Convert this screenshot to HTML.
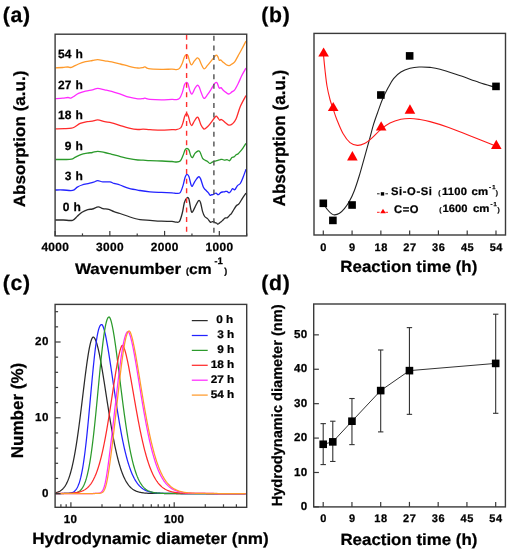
<!DOCTYPE html>
<html><head><meta charset="utf-8"><style>
html,body{margin:0;padding:0;background:#fff;width:515px;height:550px;overflow:hidden}
svg{display:block;text-rendering:geometricPrecision;filter:blur(0.3px)}
text{font-family:"Liberation Sans",sans-serif;font-weight:bold;fill:#000;stroke:#000;stroke-width:0.25px}
</style></head><body>
<svg width="515" height="550" viewBox="0 0 515 550">
<rect width="515" height="550" fill="#fff"/>
<text transform="translate(2.7,22.3) scale(1,1)" font-size="21.2" text-anchor="start" letter-spacing="0.7">(a)</text>
<path d="M55.7,67.8C56.87,67.75 60.65,67.63 62.7,67.5C64.75,67.37 66.68,67 68,67C69.32,67 69.73,67.57 70.6,67.5C71.47,67.43 71.88,67.18 73.2,66.6C74.52,66.02 76.45,64.82 78.5,64C80.55,63.18 83.18,62.28 85.5,61.7C87.82,61.12 90.37,60.85 92.4,60.5C94.43,60.15 95.65,59.55 97.7,59.6C99.75,59.65 102.37,60.42 104.7,60.8C107.03,61.18 109.08,61.37 111.7,61.9C114.32,62.43 117.5,63.27 120.4,64C123.3,64.73 126.18,65.63 129.1,66.3C132.02,66.97 135.57,67.78 137.9,68C140.23,68.22 141.92,67.8 143.1,67.6C144.28,67.4 144.1,66.63 145,66.8C145.9,66.97 145.77,68.18 148.5,68.6C151.23,69.02 157.48,69.2 161.4,69.3C165.32,69.4 169.57,69.15 172,69.2C174.43,69.25 174.75,69.73 176,69.6C177.25,69.47 178.45,69.45 179.5,68.4C180.55,67.35 181.48,65.2 182.3,63.3C183.12,61.4 183.77,58.4 184.4,57C185.03,55.6 185.52,55.13 186.1,54.9C186.68,54.67 187.25,54.32 187.9,55.6C188.55,56.88 189.37,61.05 190,62.6C190.63,64.15 191,65.13 191.7,64.9C192.4,64.67 193.28,62.37 194.2,61.2C195.12,60.03 196.38,58.25 197.2,57.9C198.02,57.55 198.43,58.08 199.1,59.1C199.77,60.12 200.38,62.37 201.2,64C202.02,65.63 202.95,68.67 204,68.9C205.05,69.13 206.33,66.68 207.5,65.4C208.67,64.12 210,62.42 211,61.2C212,59.98 212.7,59.08 213.5,58.1C214.3,57.12 215.1,55.6 215.8,55.3C216.5,55 217.12,55.47 217.7,56.3C218.28,57.13 218.8,59.7 219.3,60.3C219.8,60.9 220.12,59.63 220.7,59.9C221.28,60.17 221.87,61.1 222.8,61.9C223.73,62.7 225.25,64.08 226.3,64.7C227.35,65.32 228.17,65.72 229.1,65.6C230.03,65.48 230.97,64.62 231.9,64C232.83,63.38 233.65,63.3 234.7,61.9C235.75,60.5 237.03,57.7 238.2,55.6C239.37,53.5 240.4,51.73 241.7,49.3C243,46.87 245.28,42.38 246,41" fill="none" stroke="#ff9a2b" stroke-width="1.3" stroke-linejoin="round"/>
<path d="M55.7,98.6C56.87,98.52 60.65,98.28 62.7,98.1C64.75,97.92 66.68,97.5 68,97.5C69.32,97.5 69.73,98.22 70.6,98.1C71.47,97.98 71.88,97.6 73.2,96.8C74.52,96 76.45,94.25 78.5,93.3C80.55,92.35 83.18,91.68 85.5,91.1C87.82,90.52 90.37,90.25 92.4,89.8C94.43,89.35 95.65,88.4 97.7,88.4C99.75,88.4 102.37,89.3 104.7,89.8C107.03,90.3 109.08,90.67 111.7,91.4C114.32,92.13 117.5,93.23 120.4,94.2C123.3,95.17 126.18,96.42 129.1,97.2C132.02,97.98 135.57,98.67 137.9,98.9C140.23,99.13 141.92,98.72 143.1,98.6C144.28,98.48 143.85,98.08 145,98.2C146.15,98.32 147.27,99.03 150,99.3C152.73,99.57 157.73,99.78 161.4,99.8C165.07,99.82 169.57,99.43 172,99.4C174.43,99.37 174.75,99.77 176,99.6C177.25,99.43 178.45,99.57 179.5,98.4C180.55,97.23 181.48,94.85 182.3,92.6C183.12,90.35 183.77,86.58 184.4,84.9C185.03,83.22 185.52,82.73 186.1,82.5C186.68,82.27 187.25,82.05 187.9,83.5C188.55,84.95 189.3,89.45 190,91.2C190.7,92.95 191.28,94.47 192.1,94C192.92,93.53 194.05,89.85 194.9,88.4C195.75,86.95 196.5,85.58 197.2,85.3C197.9,85.02 198.43,85.48 199.1,86.7C199.77,87.92 200.38,90.65 201.2,92.6C202.02,94.55 202.95,98.05 204,98.4C205.05,98.75 206.33,96.18 207.5,94.7C208.67,93.22 209.97,91.13 211,89.5C212.03,87.87 212.9,86.07 213.7,84.9C214.5,83.73 215.22,82.8 215.8,82.5C216.38,82.2 216.62,82.15 217.2,83.1C217.78,84.05 218.67,87.45 219.3,88.2C219.93,88.95 220.3,87.22 221,87.6C221.7,87.98 222.62,89.67 223.5,90.5C224.38,91.33 225.42,92.02 226.3,92.6C227.18,93.18 227.87,94.12 228.8,94C229.73,93.88 230.92,92.6 231.9,91.9C232.88,91.2 233.65,91.2 234.7,89.8C235.75,88.4 237.03,85.83 238.2,83.5C239.37,81.17 240.4,78.38 241.7,75.8C243,73.22 245.28,69.3 246,68" fill="none" stroke="#ff2bff" stroke-width="1.3" stroke-linejoin="round"/>
<path d="M55.7,128.9C57.17,128.85 61.87,128.73 64.5,128.6C67.13,128.47 69.75,128.4 71.5,128.1C73.25,127.8 73.55,127.58 75,126.8C76.45,126.02 78.17,124.27 80.2,123.4C82.23,122.53 85.17,121.98 87.2,121.6C89.23,121.22 90.65,121.38 92.4,121.1C94.15,120.82 95.65,119.82 97.7,119.9C99.75,119.98 102.37,121.12 104.7,121.6C107.03,122.08 109.08,122.13 111.7,122.8C114.32,123.47 117.5,124.72 120.4,125.6C123.3,126.48 126.18,127.45 129.1,128.1C132.02,128.75 135.57,129.33 137.9,129.5C140.23,129.67 141.08,129.08 143.1,129.1C145.12,129.12 146.95,129.42 150,129.6C153.05,129.78 157.73,130.2 161.4,130.2C165.07,130.2 169.57,129.68 172,129.6C174.43,129.52 174.55,129.98 176,129.7C177.45,129.42 179.53,129.08 180.7,127.9C181.87,126.72 182.33,124.55 183,122.6C183.67,120.65 184.12,117.75 184.7,116.2C185.28,114.65 185.92,113.38 186.5,113.3C187.08,113.22 187.62,114.15 188.2,115.7C188.78,117.25 189.42,120.95 190,122.6C190.58,124.25 191.02,125.78 191.7,125.6C192.38,125.42 193.22,122.87 194.1,121.5C194.98,120.13 196.23,117.88 197,117.4C197.77,116.92 198.03,117.33 198.7,118.6C199.37,119.87 200.12,123.27 201,125C201.88,126.73 202.92,128.72 204,129C205.08,129.28 206.33,127.77 207.5,126.7C208.67,125.63 209.85,124.05 211,122.6C212.15,121.15 213.53,119.07 214.4,118C215.27,116.93 215.6,116.2 216.2,116.2C216.8,116.2 217.42,117.33 218,118C218.58,118.67 219.22,119.97 219.7,120.2C220.18,120.43 220.42,119.38 220.9,119.4C221.38,119.42 221.73,119.67 222.6,120.3C223.47,120.93 225.03,122.38 226.1,123.2C227.17,124.02 227.93,125.1 229,125.2C230.07,125.3 231.33,124.82 232.5,123.8C233.67,122.78 234.68,122.02 236,119.1C237.32,116.18 238.73,110.23 240.4,106.3C242.07,102.37 245.07,97.3 246,95.5" fill="none" stroke="#ff2b2b" stroke-width="1.3" stroke-linejoin="round"/>
<path d="M55.7,159.5C57.17,159.5 61.87,159.55 64.5,159.5C67.13,159.45 69.75,159.55 71.5,159.2C73.25,158.85 73.55,158.13 75,157.4C76.45,156.67 78.17,155.52 80.2,154.8C82.23,154.08 85.17,153.48 87.2,153.1C89.23,152.72 90.65,152.8 92.4,152.5C94.15,152.2 95.65,151.3 97.7,151.3C99.75,151.3 102.37,152 104.7,152.5C107.03,153 109.08,153.62 111.7,154.3C114.32,154.98 117.5,155.87 120.4,156.6C123.3,157.33 126.18,158.13 129.1,158.7C132.02,159.27 135.57,159.75 137.9,160C140.23,160.25 141.08,160.1 143.1,160.2C145.12,160.3 146.95,160.47 150,160.6C153.05,160.73 157.73,160.85 161.4,161C165.07,161.15 169.57,161.33 172,161.5C174.43,161.67 174.63,162.07 176,162C177.37,161.93 179.03,162.18 180.2,161.1C181.37,160.02 182.18,157.37 183,155.5C183.82,153.63 184.45,151.07 185.1,149.9C185.75,148.73 186.27,148.5 186.9,148.5C187.53,148.5 188.27,148.73 188.9,149.9C189.53,151.07 190.1,154.22 190.7,155.5C191.3,156.78 191.8,157.95 192.5,157.6C193.2,157.25 193.97,154.5 194.9,153.4C195.83,152.3 197.25,151.23 198.1,151C198.95,150.77 199.25,150.78 200,152C200.75,153.22 201.7,156.9 202.6,158.3C203.5,159.7 204.58,159.87 205.4,160.4C206.22,160.93 206.77,161 207.5,161.5C208.23,162 209.12,163.23 209.8,163.4C210.48,163.57 211.01,162.8 211.6,162.5C212.19,162.2 212.77,161.82 213.35,161.59C213.93,161.36 214.52,161.26 215.1,161.1C215.68,160.94 216.27,160.8 216.85,160.64C217.43,160.47 218.02,160.27 218.6,160.1C219.18,159.93 219.77,159.73 220.35,159.6C220.93,159.46 221.46,159.22 222.1,159.3C222.74,159.38 223.62,159.99 224.2,160.1C224.78,160.21 225.13,160.05 225.6,159.98C226.07,159.92 226.53,159.66 227,159.7C227.47,159.74 227.93,160.1 228.4,160.25C228.87,160.4 229.22,161.04 229.8,160.6C230.38,160.16 231.2,158.22 231.9,157.6C232.6,156.98 233.3,157.37 234,156.9C234.7,156.43 235.4,155.33 236.1,154.8C236.8,154.27 237.38,154.4 238.2,153.7C239.02,153 240.18,151.58 241,150.6C241.82,149.62 242.27,149 243.1,147.8C243.93,146.6 245.52,144.13 246,143.4" fill="none" stroke="#2b9a2b" stroke-width="1.3" stroke-linejoin="round"/>
<path d="M55.2,190C56.55,190 60.4,189.93 63.3,190C66.2,190.07 70.27,190.88 72.6,190.4C74.93,189.92 75.73,188 77.3,187.1C78.87,186.2 80.05,185.62 82,185C83.95,184.38 87.07,183.87 89,183.4C90.93,182.93 92.15,182.65 93.6,182.2C95.05,181.75 96.15,180.75 97.7,180.7C99.25,180.65 100.87,181.7 102.9,181.9C104.93,182.1 108.05,181.65 109.9,181.9C111.75,182.15 112.32,182.88 114,183.4C115.68,183.92 117.5,184.17 120,185C122.5,185.83 125.67,187.48 129,188.4C132.33,189.32 136.5,189.93 140,190.5C143.5,191.07 146.43,191.48 150,191.8C153.57,192.12 157.73,192.23 161.4,192.4C165.07,192.57 169.57,192.65 172,192.8C174.43,192.95 174.63,193.33 176,193.3C177.37,193.27 179.03,193.88 180.2,192.6C181.37,191.32 182.18,188.17 183,185.6C183.82,183.03 184.45,179.07 185.1,177.2C185.75,175.33 186.27,174.52 186.9,174.4C187.53,174.28 188.2,174.75 188.9,176.5C189.6,178.25 190.5,183.33 191.1,184.9C191.7,186.47 191.87,186.48 192.5,185.9C193.13,185.32 193.92,182.9 194.9,181.4C195.88,179.9 197.47,177.37 198.4,176.9C199.33,176.43 199.68,176.92 200.5,178.6C201.32,180.28 202.48,185.13 203.3,187C204.12,188.87 204.58,188.87 205.4,189.8C206.22,190.73 207.38,191.67 208.2,192.6C209.02,193.53 209.73,195.06 210.3,195.4C210.88,195.74 211.2,194.73 211.65,194.62C212.1,194.5 212.48,194.88 213,194.7C213.52,194.52 214.17,193.75 214.75,193.51C215.33,193.28 215.97,193.1 216.5,193.3C217.03,193.5 217.43,194.59 217.9,194.7C218.37,194.81 218.83,194.34 219.3,193.99C219.77,193.64 220.17,192.93 220.7,192.6C221.22,192.27 221.87,192.13 222.45,192.01C223.03,191.89 223.67,192 224.2,191.9C224.72,191.8 225.13,191.47 225.6,191.38C226.07,191.3 226.42,191.16 227,191.4C227.58,191.64 228.46,192.83 229.1,192.8C229.74,192.77 230.27,191.9 230.85,191.2C231.43,190.5 231.96,188.83 232.6,188.6C233.24,188.37 233.88,190.3 234.7,189.8C235.52,189.3 236.57,186.65 237.5,185.6C238.43,184.55 239.37,184.9 240.3,183.5C241.23,182.1 242.15,179.57 243.1,177.2C244.05,174.83 245.52,170.62 246,169.3" fill="none" stroke="#2323ff" stroke-width="1.3" stroke-linejoin="round"/>
<path d="M55.2,220C56.55,220 60.4,219.95 63.3,220C66.2,220.05 70.27,220.92 72.6,220.3C74.93,219.68 75.73,217.65 77.3,216.3C78.87,214.95 80.25,213.32 82,212.2C83.75,211.08 86.07,210.13 87.8,209.6C89.53,209.07 90.65,209.45 92.4,209C94.15,208.55 96.55,206.95 98.3,206.9C100.05,206.85 101.15,208.3 102.9,208.7C104.65,209.1 106.95,208.82 108.8,209.3C110.65,209.78 112.13,210.9 114,211.6C115.87,212.3 117.33,212.6 120,213.5C122.67,214.4 126.67,215.98 130,217C133.33,218.02 136.67,219.03 140,219.6C143.33,220.17 146.43,220.13 150,220.4C153.57,220.67 157.73,221.03 161.4,221.2C165.07,221.37 169.57,221.25 172,221.4C174.43,221.55 174.75,222.1 176,222.1C177.25,222.1 178.45,222.92 179.5,221.4C180.55,219.88 181.48,216.15 182.3,213C183.12,209.85 183.63,205.02 184.4,202.5C185.17,199.98 186.15,198.48 186.9,197.9C187.65,197.32 188.27,197.18 188.9,199C189.53,200.82 190.17,206.58 190.7,208.8C191.23,211.02 191.4,212.53 192.1,212.3C192.8,212.07 193.85,209.33 194.9,207.4C195.95,205.47 197.47,201.52 198.4,200.7C199.33,199.88 199.8,200.68 200.5,202.5C201.2,204.32 201.9,209.27 202.6,211.6C203.3,213.93 203.88,215.33 204.7,216.5C205.52,217.67 206.57,217.67 207.5,218.6C208.43,219.53 209.55,221.56 210.3,222.1C211.05,222.64 211.43,221.9 212,221.81C212.57,221.73 213.18,221.45 213.7,221.6C214.22,221.75 214.63,222.47 215.1,222.7C215.57,222.94 216.03,222.75 216.5,223C216.97,223.25 217.43,224.18 217.9,224.2C218.37,224.22 218.83,223.47 219.3,223.12C219.77,222.77 220.17,222.52 220.7,222.1C221.22,221.68 221.87,221.17 222.45,220.62C223.03,220.07 223.67,219.25 224.2,218.8C224.72,218.35 225.13,218.08 225.6,217.93C226.07,217.78 226.53,218.11 227,217.9C227.47,217.69 227.93,217.13 228.4,216.66C228.87,216.2 229.33,215.58 229.8,215.1C230.27,214.62 230.73,214.37 231.2,213.79C231.67,213.21 231.78,212.9 232.6,211.6C233.42,210.3 235.05,207.28 236.1,206C237.15,204.72 237.85,205.18 238.9,203.9C239.95,202.62 241.22,200.08 242.4,198.3C243.58,196.52 245.4,194.05 246,193.2" fill="none" stroke="#2b2b2b" stroke-width="1.3" stroke-linejoin="round"/>
<line x1="186.6" y1="34.2" x2="186.6" y2="235.5" stroke="#ff3030" stroke-width="1.4" stroke-dasharray="5,4.6" stroke-dashoffset="9.1"/>
<line x1="213.9" y1="34.2" x2="213.9" y2="235.5" stroke="#505050" stroke-width="1.4" stroke-dasharray="5,4.6" stroke-dashoffset="8"/>
<rect x="55.1" y="34.2" width="191.6" height="201.7" fill="none" stroke="#3a3a3a" stroke-width="1.4"/>
<line x1="55.1" y1="235.9" x2="55.1" y2="230.9" stroke="#3a3a3a" stroke-width="1.2"/>
<line x1="82.47" y1="235.9" x2="82.47" y2="233.4" stroke="#3a3a3a" stroke-width="1.2"/>
<line x1="109.84" y1="235.9" x2="109.84" y2="230.9" stroke="#3a3a3a" stroke-width="1.2"/>
<line x1="137.21" y1="235.9" x2="137.21" y2="233.4" stroke="#3a3a3a" stroke-width="1.2"/>
<line x1="164.58" y1="235.9" x2="164.58" y2="230.9" stroke="#3a3a3a" stroke-width="1.2"/>
<line x1="191.95" y1="235.9" x2="191.95" y2="233.4" stroke="#3a3a3a" stroke-width="1.2"/>
<line x1="219.32" y1="235.9" x2="219.32" y2="230.9" stroke="#3a3a3a" stroke-width="1.2"/>
<line x1="246.69" y1="235.9" x2="246.69" y2="233.4" stroke="#3a3a3a" stroke-width="1.2"/>
<text transform="translate(55.3,251.4) scale(1,1)" font-size="11.9" text-anchor="middle" letter-spacing="0.35">4000</text>
<text transform="translate(110.04,251.4) scale(1,1)" font-size="11.9" text-anchor="middle" letter-spacing="0.35">3000</text>
<text transform="translate(164.78,251.4) scale(1,1)" font-size="11.9" text-anchor="middle" letter-spacing="0.35">2000</text>
<text transform="translate(219.52,251.4) scale(1,1)" font-size="11.9" text-anchor="middle" letter-spacing="0.35">1000</text>
<text transform="translate(83.1,58.3) scale(1,1)" font-size="12" text-anchor="end" letter-spacing="0.3">54 h</text>
<text transform="translate(83.1,88.9) scale(1,1)" font-size="12" text-anchor="end" letter-spacing="0.3">27 h</text>
<text transform="translate(83.1,119.1) scale(1,1)" font-size="12" text-anchor="end" letter-spacing="0.3">18 h</text>
<text transform="translate(83.1,150) scale(1,1)" font-size="12" text-anchor="end" letter-spacing="0.3">9 h</text>
<text transform="translate(83.1,180.4) scale(1,1)" font-size="12" text-anchor="end" letter-spacing="0.3">3 h</text>
<text transform="translate(81.1,210.7) scale(1,1)" font-size="12" text-anchor="end" letter-spacing="0.3">0 h</text>
<text transform="translate(74.9,273.7) scale(1,0.9)" font-size="17" text-anchor="start" >Wavenumber</text>
<text transform="translate(186,274) scale(1,1)" font-size="8.8" text-anchor="start" >(</text>
<text transform="translate(189,273.6) scale(1,0.93)" font-size="15.6" text-anchor="start" >cm</text>
<text transform="translate(214.6,264.3) scale(1,1)" font-size="8.8" text-anchor="start" >-</text>
<text transform="translate(217.6,264.4) scale(1,1)" font-size="9.6" text-anchor="start" >1</text>
<text transform="translate(224.3,274) scale(1,1)" font-size="8.8" text-anchor="start" >)</text>
<text transform="translate(24.9,138.9) rotate(-90) scale(1,0.95)" x="0" y="0" font-size="17.1" text-anchor="middle">Absorption (a.u.)</text>
<text transform="translate(261.3,22.3) scale(1,1)" font-size="21.2" text-anchor="start" letter-spacing="0.7">(b)</text>
<path d="M324,204.6C324.55,205.42 326.07,208 327.3,209.5C328.53,211 330.18,212.7 331.4,213.6C332.62,214.5 333.25,214.95 334.6,214.9C335.95,214.85 337.87,214.33 339.5,213.3C341.13,212.27 342.75,210.7 344.4,208.7C346.05,206.7 347.75,204.3 349.4,201.3C351.05,198.3 352.67,194.92 354.3,190.7C355.93,186.48 357.62,181.15 359.2,176C360.78,170.85 362.43,164.67 363.8,159.8C365.17,154.93 366.35,150.57 367.4,146.8C368.45,143.03 369.07,140.97 370.1,137.2C371.13,133.43 372.25,128.58 373.6,124.2C374.95,119.82 376.68,115.13 378.2,110.9C379.72,106.67 381.03,102.68 382.7,98.8C384.37,94.92 386.38,90.97 388.2,87.6C390.02,84.23 391.48,81.2 393.6,78.6C395.72,76 398.17,73.72 400.9,72C403.63,70.28 406.97,69.13 410,68.3C413.03,67.47 415.77,67.15 419.1,67C422.43,66.85 426.52,67.03 430,67.4C433.48,67.77 435.07,67.83 440,69.2C444.93,70.57 453.07,73.4 459.6,75.6C466.13,77.8 473.47,80.5 479.2,82.4C484.93,84.3 491.53,86.23 494,87" fill="none" stroke="#222" stroke-width="1.1"/>
<path d="M323.4,54C323.67,56.67 324.4,64.67 325,70C325.6,75.33 326.17,81.08 327,86C327.83,90.92 329,95.75 330,99.5C331,103.25 331.83,105.08 333,108.5C334.17,111.92 335.33,115.83 337,120C338.67,124.17 340.83,129.73 343,133.5C345.17,137.27 347.62,140.62 350,142.6C352.38,144.58 354.88,145.23 357.3,145.4C359.72,145.57 362.08,144.8 364.5,143.6C366.92,142.4 369.07,140.57 371.8,138.2C374.53,135.83 377.87,131.93 380.9,129.4C383.93,126.87 386.67,124.68 390,123C393.33,121.32 397.57,120.05 400.9,119.3C404.23,118.55 406.97,118.48 410,118.5C413.03,118.52 415.77,118.88 419.1,119.4C422.43,119.92 425.07,120.27 430,121.6C434.93,122.93 441.95,125 448.7,127.4C455.45,129.8 462.87,132.98 470.5,136C478.13,139.02 490.5,143.92 494.5,145.5" fill="none" stroke="#ff1a1a" stroke-width="1.1"/>
<rect x="319.5" y="199.5" width="7.6" height="7.6" fill="#000"/>
<rect x="329.09" y="216.6" width="7.6" height="7.6" fill="#000"/>
<rect x="348.28" y="201.2" width="7.6" height="7.6" fill="#000"/>
<rect x="377.06" y="91.2" width="7.6" height="7.6" fill="#000"/>
<rect x="405.85" y="52.1" width="7.6" height="7.6" fill="#000"/>
<rect x="492.19" y="82.6" width="7.6" height="7.6" fill="#000"/>
<path d="M323.6,47.4 L318.3,56.5 L328.9,56.5 Z" fill="#ff0000"/>
<path d="M333.19,102 L327.89,110.9 L338.49,110.9 Z" fill="#ff0000"/>
<path d="M352.38,151 L347.08,160.6 L357.68,160.6 Z" fill="#ff0000"/>
<path d="M381.16,121.2 L375.86,130.4 L386.46,130.4 Z" fill="#ff0000"/>
<path d="M409.95,104.2 L404.65,113.7 L415.25,113.7 Z" fill="#ff0000"/>
<path d="M496.29,139.8 L490.99,149.1 L501.59,149.1 Z" fill="#ff0000"/>
<rect x="314" y="33.4" width="191.5" height="201.6" fill="none" stroke="#3a3a3a" stroke-width="1.4"/>
<line x1="323.3" y1="235" x2="323.3" y2="230.4" stroke="#3a3a3a" stroke-width="1.2"/>
<text transform="translate(323.6,250.6) scale(1,1)" font-size="11" text-anchor="middle" letter-spacing="0.5">0</text>
<line x1="352.08" y1="235" x2="352.08" y2="230.4" stroke="#3a3a3a" stroke-width="1.2"/>
<text transform="translate(352.38,250.6) scale(1,1)" font-size="11" text-anchor="middle" letter-spacing="0.5">9</text>
<line x1="380.86" y1="235" x2="380.86" y2="230.4" stroke="#3a3a3a" stroke-width="1.2"/>
<text transform="translate(381.16,250.6) scale(1,1)" font-size="11" text-anchor="middle" letter-spacing="0.5">18</text>
<line x1="409.65" y1="235" x2="409.65" y2="230.4" stroke="#3a3a3a" stroke-width="1.2"/>
<text transform="translate(409.95,250.6) scale(1,1)" font-size="11" text-anchor="middle" letter-spacing="0.5">27</text>
<line x1="438.43" y1="235" x2="438.43" y2="230.4" stroke="#3a3a3a" stroke-width="1.2"/>
<text transform="translate(438.73,250.6) scale(1,1)" font-size="11" text-anchor="middle" letter-spacing="0.5">36</text>
<line x1="467.21" y1="235" x2="467.21" y2="230.4" stroke="#3a3a3a" stroke-width="1.2"/>
<text transform="translate(467.51,250.6) scale(1,1)" font-size="11" text-anchor="middle" letter-spacing="0.5">45</text>
<line x1="495.99" y1="235" x2="495.99" y2="230.4" stroke="#3a3a3a" stroke-width="1.2"/>
<text transform="translate(496.29,250.6) scale(1,1)" font-size="11" text-anchor="middle" letter-spacing="0.5">54</text>
<text transform="translate(408.8,272) scale(1,0.96)" font-size="16.9" text-anchor="middle" >Reaction time (h)</text>
<text transform="translate(284.8,138.1) rotate(-90) scale(1,1)" x="0" y="0" font-size="17.1" text-anchor="middle">Absorption (a.u.)</text>
<line x1="377" y1="193.8" x2="388" y2="193.8" stroke="#222" stroke-width="1" stroke-dasharray="2.6,1.6"/>
<rect x="380.8" y="192.2" width="3.4" height="3.4" fill="#000"/>
<text transform="translate(391,195.4) scale(1,1)" font-size="11.2" text-anchor="start" letter-spacing="0.6">Si-O-Si</text>
<text transform="translate(438.2,194.9) scale(1,1)" font-size="6.6" text-anchor="start" >(</text>
<text transform="translate(441.9,195.0) scale(1,0.95)" font-size="11.2" textLength="25.0" lengthAdjust="spacing">1100</text>
<text transform="translate(471.6,195) scale(1,0.93)" font-size="11.4" text-anchor="start" >cm</text>
<text transform="translate(488.9,188.6) scale(1,1)" font-size="6" text-anchor="start" >-</text>
<text transform="translate(492.3,188.6) scale(1,1)" font-size="5.8" text-anchor="start" >1</text>
<text transform="translate(495.7,195) scale(1,1)" font-size="6.6" text-anchor="start" >)</text>
<line x1="377" y1="212.3" x2="388" y2="212.3" stroke="#ff2020" stroke-width="1" stroke-dasharray="2.6,1.6"/>
<path d="M383,208.8 L380.2,213.2 L385.8,213.2 Z" fill="#ff0000"/>
<text transform="translate(394,212.6) scale(1,1)" font-size="11.2" text-anchor="start" letter-spacing="0.6">C=O</text>
<text transform="translate(439.3,212.3) scale(1,1)" font-size="6.6" text-anchor="start" >(</text>
<text transform="translate(442.6,212.4) scale(1,0.95)" font-size="11.2" textLength="25.0" lengthAdjust="spacing">1600</text>
<text transform="translate(472.9,212.4) scale(1,0.93)" font-size="11.4" text-anchor="start" >cm</text>
<text transform="translate(490.6,205.9) scale(1,1)" font-size="6" text-anchor="start" >-</text>
<text transform="translate(493.4,206.2) scale(1,1)" font-size="5.8" text-anchor="start" >1</text>
<text transform="translate(497.5,212.3) scale(1,1)" font-size="6.6" text-anchor="start" >)</text>
<text transform="translate(2.7,290.1) scale(1,1)" font-size="21.2" text-anchor="start" letter-spacing="0.7">(c)</text>
<path d="M55.7,492.66 L56.2,492.54 L56.7,492.41 L57.2,492.26 L57.7,492.09 L58.2,491.91 L58.7,491.7 L59.2,491.47 L59.7,491.21 L60.2,490.92 L60.7,490.6 L61.2,490.25 L61.7,489.86 L62.2,489.43 L62.7,488.96 L63.2,488.44 L63.7,487.87 L64.2,487.24 L64.7,486.56 L65.2,485.81 L65.7,485 L66.2,484.12 L66.7,483.16 L67.2,482.12 L67.7,481 L68.2,479.79 L68.7,478.49 L69.2,477.09 L69.7,475.58 L70.2,473.98 L70.7,472.26 L71.2,470.43 L71.7,468.48 L72.2,466.42 L72.7,464.23 L73.2,461.92 L73.7,459.48 L74.2,456.91 L74.7,454.22 L75.2,451.39 L75.7,448.45 L76.2,445.37 L76.7,442.17 L77.2,438.86 L77.7,435.43 L78.2,431.88 L78.7,428.24 L79.2,424.5 L79.7,420.66 L80.2,416.75 L80.7,412.77 L81.2,408.74 L81.7,404.65 L82.2,400.54 L82.7,396.41 L83.2,392.27 L83.7,388.15 L84.2,384.06 L84.7,380.01 L85.2,376.04 L85.7,372.14 L86.2,368.35 L86.7,364.69 L87.2,361.16 L87.7,357.8 L88.2,354.62 L88.7,351.64 L89.2,348.88 L89.7,346.36 L90.2,344.1 L90.7,342.12 L91.2,340.43 L91.7,339.06 L92.2,338.02 L92.7,337.34 L93.2,337.05 L93.7,337.2 L94.2,337.64 L94.7,338.33 L95.2,339.26 L95.7,340.4 L96.2,341.75 L96.7,343.29 L97.2,345.01 L97.7,346.9 L98.2,348.95 L98.7,351.14 L99.2,353.48 L99.7,355.94 L100.2,358.52 L100.7,361.21 L101.2,363.99 L101.7,366.87 L102.2,369.82 L102.7,372.83 L103.2,375.91 L103.7,379.03 L104.2,382.2 L104.7,385.39 L105.2,388.61 L105.7,391.84 L106.2,395.07 L106.7,398.31 L107.2,401.53 L107.7,404.74 L108.2,407.93 L108.7,411.09 L109.2,414.21 L109.7,417.29 L110.2,420.33 L110.7,423.32 L111.2,426.25 L111.7,429.13 L112.2,431.95 L112.7,434.7 L113.2,437.38 L113.7,439.99 L114.2,442.54 L114.7,445.01 L115.2,447.4 L115.7,449.72 L116.2,451.96 L116.7,454.13 L117.2,456.22 L117.7,458.23 L118.2,460.17 L118.7,462.03 L119.2,463.81 L119.7,465.52 L120.2,467.16 L120.7,468.72 L121.2,470.21 L121.7,471.64 L122.2,472.99 L122.7,474.28 L123.2,475.51 L123.7,476.67 L124.2,477.77 L124.7,478.81 L125.2,479.8 L125.7,480.73 L126.2,481.61 L126.7,482.44 L127.2,483.22 L127.7,483.96 L128.2,484.65 L128.7,485.29 L129.2,485.9 L129.7,486.47 L130.2,487 L130.7,487.5 L131.2,487.96 L131.7,488.39 L132.2,488.8 L132.7,489.17 L133.2,489.52 L133.7,489.84 L134.2,490.14 L134.7,490.42 L135.2,490.68 L135.7,490.92 L136.2,491.14 L136.7,491.34 L137.2,491.53 L137.7,491.7 L138.2,491.86 L138.7,492.01 L139.2,492.14 L139.7,492.27 L140.2,492.38 L140.7,492.48 L141.2,492.58 L141.7,492.66 L142.2,492.74 L142.7,492.82 L143.2,492.88 L143.7,492.94 L144.2,493 L144.7,493.05 L145.2,493.09 L145.7,493.13 L146.2,493.17 L146.7,493.2 L147.2,493.23 L147.7,493.26 L148.2,493.29 L148.7,493.31 L149.2,493.33 L149.7,493.35 L150.2,493.36 L150.7,493.38 L151.2,493.39 L151.7,493.4 L152.2,493.41 L152.7,493.42 L153.2,493.43 L153.7,493.44 L154.2,493.45 L154.7,493.45 L155.2,493.46 L155.7,493.46 L156.2,493.47 L156.7,493.47 L157.2,493.47 L157.7,493.48 L158.2,493.48 L158.7,493.48 L159.2,493.48 L159.7,493.49 L160.2,493.49 L160.7,493.49 L161.2,493.49 L161.7,493.49 L162.2,493.49 L162.7,493.49 L163.2,493.49 L163.7,493.5 L164.2,493.5 L164.7,493.5 L165.2,493.5 L165.7,493.5 L166.2,493.5 L166.7,493.5 L167.2,493.5 L167.7,493.5 L168.2,493.5 L168.7,493.5 L169.2,493.5 L169.7,493.5 L170.2,493.5 L170.7,493.5 L171.2,493.5 L171.7,493.5 L172.2,493.5 L172.7,493.5 L173.2,493.5 L173.7,493.5 L174.2,493.5 L174.7,493.5 L175.2,493.5 L175.7,493.5 L176.2,493.5 L176.7,493.5 L177.2,493.5 L177.7,493.5 L178.2,493.5 L178.7,493.5 L179.2,493.5 L179.7,493.5 L180.2,493.5 L180.7,493.5 L181.2,493.5 L181.7,493.5 L182.2,493.5 L182.7,493.5 L183.2,493.5 L183.7,493.5 L184.2,493.5 L184.7,493.5 L185.2,493.5 L185.7,493.5 L186.2,493.5 L186.7,493.5 L187.2,493.5 L187.7,493.5 L188.2,493.5 L188.7,493.5 L189.2,493.5 L189.7,493.5 L190.2,493.5 L190.7,493.5 L191.2,493.5 L191.7,493.5 L192.2,493.5 L192.7,493.5 L193.2,493.5 L193.7,493.5 L194.2,493.5 L194.7,493.5 L195.2,493.5 L195.7,493.5 L196.2,493.5 L196.7,493.5 L197.2,493.5 L197.7,493.5 L198.2,493.5 L198.7,493.5 L199.2,493.5 L199.7,493.5 L200.2,493.5 L200.7,493.5 L201.2,493.5 L201.7,493.5 L202.2,493.5 L202.7,493.5 L203.2,493.5 L203.7,493.5 L204.2,493.5 L204.7,493.5 L205.2,493.5 L205.7,493.5 L206.2,493.5 L206.7,493.5 L207.2,493.5 L207.7,493.5 L208.2,493.5 L208.7,493.5 L209.2,493.5 L209.7,493.5 L210.2,493.5 L210.7,493.5 L211.2,493.5 L211.7,493.5 L212.2,493.5 L212.7,493.5 L213.2,493.5 L213.7,493.5 L214.2,493.5 L214.7,493.5 L215.2,493.5 L215.7,493.5 L216.2,493.5 L216.7,493.5 L217.2,493.5 L217.7,493.5 L218.2,493.5 L218.7,493.5 L219.2,493.5 L219.7,493.5 L220.2,493.5 L220.7,493.5 L221.2,493.5 L221.7,493.5 L222.2,493.5 L222.7,493.5 L223.2,493.5 L223.7,493.5 L224.2,493.5 L224.7,493.5 L225.2,493.5 L225.7,493.5 L226.2,493.5 L226.7,493.5 L227.2,493.5 L227.7,493.5 L228.2,493.5 L228.7,493.5 L229.2,493.5 L229.7,493.5 L230.2,493.5 L230.7,493.5 L231.2,493.5 L231.7,493.5 L232.2,493.5 L232.7,493.5 L233.2,493.5 L233.7,493.5 L234.2,493.5 L234.7,493.5 L235.2,493.5 L235.7,493.5 L236.2,493.5 L236.7,493.5 L237.2,493.5 L237.7,493.5 L238.2,493.5 L238.7,493.5 L239.2,493.5 L239.7,493.5 L240.2,493.5 L240.7,493.5 L241.2,493.5 L241.7,493.5 L242.2,493.5 L242.7,493.5 L243.2,493.5 L243.7,493.5 L244.2,493.5 L244.7,493.5 L245.2,493.5 L245.7,493.5" fill="none" stroke="#2b2b2b" stroke-width="1.25" stroke-linejoin="round"/>
<path d="M55.7,493.5 L56.2,493.5 L56.7,493.5 L57.2,493.5 L57.7,493.5 L58.2,493.5 L58.7,493.5 L59.2,493.5 L59.7,493.5 L60.2,493.5 L60.7,493.5 L61.2,493.5 L61.7,493.49 L62.2,493.49 L62.7,493.49 L63.2,493.49 L63.7,493.48 L64.2,493.48 L64.7,493.47 L65.2,493.46 L65.7,493.45 L66.2,493.44 L66.7,493.42 L67.2,493.4 L67.7,493.37 L68.2,493.33 L68.7,493.29 L69.2,493.23 L69.7,493.16 L70.2,493.08 L70.7,492.98 L71.2,492.86 L71.7,492.71 L72.2,492.53 L72.7,492.32 L73.2,492.06 L73.7,491.76 L74.2,491.41 L74.7,491 L75.2,490.51 L75.7,489.95 L76.2,489.3 L76.7,488.55 L77.2,487.69 L77.7,486.71 L78.2,485.6 L78.7,484.35 L79.2,482.94 L79.7,481.36 L80.2,479.61 L80.7,477.66 L81.2,475.51 L81.7,473.15 L82.2,470.57 L82.7,467.77 L83.2,464.73 L83.7,461.46 L84.2,457.95 L84.7,454.21 L85.2,450.23 L85.7,446.03 L86.2,441.61 L86.7,436.98 L87.2,432.16 L87.7,427.17 L88.2,422.03 L88.7,416.75 L89.2,411.38 L89.7,405.92 L90.2,400.41 L90.7,394.89 L91.2,389.38 L91.7,383.92 L92.2,378.55 L92.7,373.28 L93.2,368.17 L93.7,363.23 L94.2,358.51 L94.7,354.02 L95.2,349.8 L95.7,345.87 L96.2,342.24 L96.7,338.94 L97.2,335.98 L97.7,333.37 L98.2,331.11 L98.7,329.2 L99.2,327.65 L99.7,326.43 L100.2,325.54 L100.7,324.95 L101.2,324.64 L101.7,324.55 L102.2,324.87 L102.7,325.67 L103.2,326.81 L103.7,328.23 L104.2,329.91 L104.7,331.82 L105.2,333.93 L105.7,336.22 L106.2,338.68 L106.7,341.29 L107.2,344.03 L107.7,346.89 L108.2,349.86 L108.7,352.92 L109.2,356.07 L109.7,359.28 L110.2,362.55 L110.7,365.87 L111.2,369.22 L111.7,372.61 L112.2,376.01 L112.7,379.42 L113.2,382.84 L113.7,386.25 L114.2,389.64 L114.7,393.02 L115.2,396.38 L115.7,399.7 L116.2,402.98 L116.7,406.22 L117.2,409.42 L117.7,412.56 L118.2,415.65 L118.7,418.68 L119.2,421.65 L119.7,424.56 L120.2,427.4 L120.7,430.17 L121.2,432.88 L121.7,435.51 L122.2,438.07 L122.7,440.55 L123.2,442.96 L123.7,445.3 L124.2,447.56 L124.7,449.75 L125.2,451.86 L125.7,453.9 L126.2,455.87 L126.7,457.76 L127.2,459.58 L127.7,461.34 L128.2,463.02 L128.7,464.63 L129.2,466.18 L129.7,467.66 L130.2,469.08 L130.7,470.43 L131.2,471.73 L131.7,472.96 L132.2,474.14 L132.7,475.26 L133.2,476.33 L133.7,477.35 L134.2,478.32 L134.7,479.23 L135.2,480.1 L135.7,480.93 L136.2,481.71 L136.7,482.45 L137.2,483.15 L137.7,483.81 L138.2,484.44 L138.7,485.03 L139.2,485.58 L139.7,486.11 L140.2,486.6 L140.7,487.07 L141.2,487.5 L141.7,487.91 L142.2,488.3 L142.7,488.66 L143.2,489 L143.7,489.32 L144.2,489.62 L144.7,489.9 L145.2,490.16 L145.7,490.4 L146.2,490.63 L146.7,490.84 L147.2,491.04 L147.7,491.22 L148.2,491.4 L148.7,491.56 L149.2,491.7 L149.7,491.84 L150.2,491.97 L150.7,492.09 L151.2,492.2 L151.7,492.3 L152.2,492.4 L152.7,492.49 L153.2,492.57 L153.7,492.65 L154.2,492.72 L154.7,492.78 L155.2,492.84 L155.7,492.89 L156.2,492.94 L156.7,492.99 L157.2,493.03 L157.7,493.07 L158.2,493.11 L158.7,493.14 L159.2,493.18 L159.7,493.2 L160.2,493.23 L160.7,493.25 L161.2,493.28 L161.7,493.3 L162.2,493.31 L162.7,493.33 L163.2,493.35 L163.7,493.36 L164.2,493.37 L164.7,493.38 L165.2,493.39 L165.7,493.4 L166.2,493.41 L166.7,493.42 L167.2,493.43 L167.7,493.44 L168.2,493.44 L168.7,493.45 L169.2,493.45 L169.7,493.46 L170.2,493.46 L170.7,493.47 L171.2,493.47 L171.7,493.47 L172.2,493.47 L172.7,493.48 L173.2,493.48 L173.7,493.48 L174.2,493.48 L174.7,493.48 L175.2,493.49 L175.7,493.49 L176.2,493.49 L176.7,493.49 L177.2,493.49 L177.7,493.49 L178.2,493.49 L178.7,493.49 L179.2,493.49 L179.7,493.49 L180.2,493.5 L180.7,493.5 L181.2,493.5 L181.7,493.5 L182.2,493.5 L182.7,493.5 L183.2,493.5 L183.7,493.5 L184.2,493.5 L184.7,493.5 L185.2,493.5 L185.7,493.5 L186.2,493.5 L186.7,493.5 L187.2,493.5 L187.7,493.5 L188.2,493.5 L188.7,493.5 L189.2,493.5 L189.7,493.5 L190.2,493.5 L190.7,493.5 L191.2,493.5 L191.7,493.5 L192.2,493.5 L192.7,493.5 L193.2,493.5 L193.7,493.5 L194.2,493.5 L194.7,493.5 L195.2,493.5 L195.7,493.5 L196.2,493.5 L196.7,493.5 L197.2,493.5 L197.7,493.5 L198.2,493.5 L198.7,493.5 L199.2,493.5 L199.7,493.5 L200.2,493.5 L200.7,493.5 L201.2,493.5 L201.7,493.5 L202.2,493.5 L202.7,493.5 L203.2,493.5 L203.7,493.5 L204.2,493.5 L204.7,493.5 L205.2,493.5 L205.7,493.5 L206.2,493.5 L206.7,493.5 L207.2,493.5 L207.7,493.5 L208.2,493.5 L208.7,493.5 L209.2,493.5 L209.7,493.5 L210.2,493.5 L210.7,493.5 L211.2,493.5 L211.7,493.5 L212.2,493.5 L212.7,493.5 L213.2,493.5 L213.7,493.5 L214.2,493.5 L214.7,493.5 L215.2,493.5 L215.7,493.5 L216.2,493.5 L216.7,493.5 L217.2,493.5 L217.7,493.5 L218.2,493.5 L218.7,493.5 L219.2,493.5 L219.7,493.5 L220.2,493.5 L220.7,493.5 L221.2,493.5 L221.7,493.5 L222.2,493.5 L222.7,493.5 L223.2,493.5 L223.7,493.5 L224.2,493.5 L224.7,493.5 L225.2,493.5 L225.7,493.5 L226.2,493.5 L226.7,493.5 L227.2,493.5 L227.7,493.5 L228.2,493.5 L228.7,493.5 L229.2,493.5 L229.7,493.5 L230.2,493.5 L230.7,493.5 L231.2,493.5 L231.7,493.5 L232.2,493.5 L232.7,493.5 L233.2,493.5 L233.7,493.5 L234.2,493.5 L234.7,493.5 L235.2,493.5 L235.7,493.5 L236.2,493.5 L236.7,493.5 L237.2,493.5 L237.7,493.5 L238.2,493.5 L238.7,493.5 L239.2,493.5 L239.7,493.5 L240.2,493.5 L240.7,493.5 L241.2,493.5 L241.7,493.5 L242.2,493.5 L242.7,493.5 L243.2,493.5 L243.7,493.5 L244.2,493.5 L244.7,493.5 L245.2,493.5 L245.7,493.5" fill="none" stroke="#2323ff" stroke-width="1.25" stroke-linejoin="round"/>
<path d="M55.7,493.5 L56.2,493.5 L56.7,493.5 L57.2,493.5 L57.7,493.5 L58.2,493.5 L58.7,493.5 L59.2,493.5 L59.7,493.5 L60.2,493.5 L60.7,493.5 L61.2,493.5 L61.7,493.5 L62.2,493.5 L62.7,493.5 L63.2,493.5 L63.7,493.5 L64.2,493.49 L64.7,493.49 L65.2,493.49 L65.7,493.49 L66.2,493.48 L66.7,493.48 L67.2,493.48 L67.7,493.47 L68.2,493.46 L68.7,493.45 L69.2,493.44 L69.7,493.43 L70.2,493.41 L70.7,493.39 L71.2,493.37 L71.7,493.34 L72.2,493.31 L72.7,493.27 L73.2,493.22 L73.7,493.16 L74.2,493.09 L74.7,493.01 L75.2,492.91 L75.7,492.8 L76.2,492.67 L76.7,492.51 L77.2,492.33 L77.7,492.13 L78.2,491.88 L78.7,491.61 L79.2,491.29 L79.7,490.92 L80.2,490.5 L80.7,490.03 L81.2,489.49 L81.7,488.88 L82.2,488.19 L82.7,487.42 L83.2,486.56 L83.7,485.59 L84.2,484.52 L84.7,483.32 L85.2,482 L85.7,480.55 L86.2,478.95 L86.7,477.21 L87.2,475.3 L87.7,473.22 L88.2,470.98 L88.7,468.55 L89.2,465.93 L89.7,463.12 L90.2,460.12 L90.7,456.92 L91.2,453.53 L91.7,449.93 L92.2,446.14 L92.7,442.16 L93.2,438 L93.7,433.65 L94.2,429.14 L94.7,424.47 L95.2,419.66 L95.7,414.72 L96.2,409.67 L96.7,404.53 L97.2,399.32 L97.7,394.06 L98.2,388.77 L98.7,383.49 L99.2,378.24 L99.7,373.04 L100.2,367.93 L100.7,362.92 L101.2,358.06 L101.7,353.36 L102.2,348.85 L102.7,344.56 L103.2,340.52 L103.7,336.75 L104.2,333.26 L104.7,330.08 L105.2,327.22 L105.7,324.71 L106.2,322.54 L106.7,320.73 L107.2,319.28 L107.7,318.19 L108.2,317.45 L108.7,317.06 L109.2,317 L109.7,317.47 L110.2,318.41 L110.7,319.72 L111.2,321.37 L111.7,323.32 L112.2,325.54 L112.7,328.02 L113.2,330.72 L113.7,333.62 L114.2,336.72 L114.7,339.98 L115.2,343.4 L115.7,346.94 L116.2,350.6 L116.7,354.36 L117.2,358.2 L117.7,362.11 L118.2,366.07 L118.7,370.07 L119.2,374.1 L119.7,378.14 L120.2,382.18 L120.7,386.21 L121.2,390.21 L121.7,394.19 L122.2,398.12 L122.7,402.01 L123.2,405.84 L123.7,409.6 L124.2,413.3 L124.7,416.92 L125.2,420.45 L125.7,423.91 L126.2,427.27 L126.7,430.53 L127.2,433.7 L127.7,436.77 L128.2,439.75 L128.7,442.62 L129.2,445.38 L129.7,448.05 L130.2,450.61 L130.7,453.07 L131.2,455.43 L131.7,457.68 L132.2,459.84 L132.7,461.9 L133.2,463.86 L133.7,465.73 L134.2,467.51 L134.7,469.19 L135.2,470.79 L135.7,472.31 L136.2,473.74 L136.7,475.1 L137.2,476.38 L137.7,477.58 L138.2,478.72 L138.7,479.78 L139.2,480.78 L139.7,481.72 L140.2,482.6 L140.7,483.43 L141.2,484.2 L141.7,484.92 L142.2,485.59 L142.7,486.21 L143.2,486.8 L143.7,487.34 L144.2,487.84 L144.7,488.31 L145.2,488.74 L145.7,489.14 L146.2,489.51 L146.7,489.85 L147.2,490.17 L147.7,490.46 L148.2,490.73 L148.7,490.97 L149.2,491.2 L149.7,491.41 L150.2,491.6 L150.7,491.77 L151.2,491.93 L151.7,492.08 L152.2,492.22 L152.7,492.34 L153.2,492.45 L153.7,492.55 L154.2,492.64 L154.7,492.73 L155.2,492.8 L155.7,492.87 L156.2,492.94 L156.7,492.99 L157.2,493.05 L157.7,493.09 L158.2,493.13 L158.7,493.17 L159.2,493.21 L159.7,493.24 L160.2,493.27 L160.7,493.29 L161.2,493.31 L161.7,493.33 L162.2,493.35 L162.7,493.37 L163.2,493.38 L163.7,493.4 L164.2,493.41 L164.7,493.42 L165.2,493.43 L165.7,493.44 L166.2,493.44 L166.7,493.45 L167.2,493.46 L167.7,493.46 L168.2,493.47 L168.7,493.47 L169.2,493.47 L169.7,493.48 L170.2,493.48 L170.7,493.48 L171.2,493.48 L171.7,493.49 L172.2,493.49 L172.7,493.49 L173.2,493.49 L173.7,493.49 L174.2,493.49 L174.7,493.49 L175.2,493.49 L175.7,493.5 L176.2,493.5 L176.7,493.5 L177.2,493.5 L177.7,493.5 L178.2,493.5 L178.7,493.5 L179.2,493.5 L179.7,493.5 L180.2,493.5 L180.7,493.5 L181.2,493.5 L181.7,493.5 L182.2,493.5 L182.7,493.5 L183.2,493.5 L183.7,493.5 L184.2,493.5 L184.7,493.5 L185.2,493.5 L185.7,493.5 L186.2,493.5 L186.7,493.5 L187.2,493.5 L187.7,493.5 L188.2,493.5 L188.7,493.5 L189.2,493.5 L189.7,493.5 L190.2,493.5 L190.7,493.5 L191.2,493.5 L191.7,493.5 L192.2,493.5 L192.7,493.5 L193.2,493.5 L193.7,493.5 L194.2,493.5 L194.7,493.5 L195.2,493.5 L195.7,493.5 L196.2,493.5 L196.7,493.5 L197.2,493.5 L197.7,493.5 L198.2,493.5 L198.7,493.5 L199.2,493.5 L199.7,493.5 L200.2,493.5 L200.7,493.5 L201.2,493.5 L201.7,493.5 L202.2,493.5 L202.7,493.5 L203.2,493.5 L203.7,493.5 L204.2,493.5 L204.7,493.5 L205.2,493.5 L205.7,493.5 L206.2,493.5 L206.7,493.5 L207.2,493.5 L207.7,493.5 L208.2,493.5 L208.7,493.5 L209.2,493.5 L209.7,493.5 L210.2,493.5 L210.7,493.5 L211.2,493.5 L211.7,493.5 L212.2,493.5 L212.7,493.5 L213.2,493.5 L213.7,493.5 L214.2,493.5 L214.7,493.5 L215.2,493.5 L215.7,493.5 L216.2,493.5 L216.7,493.5 L217.2,493.5 L217.7,493.5 L218.2,493.5 L218.7,493.5 L219.2,493.5 L219.7,493.5 L220.2,493.5 L220.7,493.5 L221.2,493.5 L221.7,493.5 L222.2,493.5 L222.7,493.5 L223.2,493.5 L223.7,493.5 L224.2,493.5 L224.7,493.5 L225.2,493.5 L225.7,493.5 L226.2,493.5 L226.7,493.5 L227.2,493.5 L227.7,493.5 L228.2,493.5 L228.7,493.5 L229.2,493.5 L229.7,493.5 L230.2,493.5 L230.7,493.5 L231.2,493.5 L231.7,493.5 L232.2,493.5 L232.7,493.5 L233.2,493.5 L233.7,493.5 L234.2,493.5 L234.7,493.5 L235.2,493.5 L235.7,493.5 L236.2,493.5 L236.7,493.5 L237.2,493.5 L237.7,493.5 L238.2,493.5 L238.7,493.5 L239.2,493.5 L239.7,493.5 L240.2,493.5 L240.7,493.5 L241.2,493.5 L241.7,493.5 L242.2,493.5 L242.7,493.5 L243.2,493.5 L243.7,493.5 L244.2,493.5 L244.7,493.5 L245.2,493.5 L245.7,493.5" fill="none" stroke="#2b9a2b" stroke-width="1.25" stroke-linejoin="round"/>
<path d="M55.7,493.49 L56.2,493.49 L56.7,493.49 L57.2,493.49 L57.7,493.48 L58.2,493.48 L58.7,493.48 L59.2,493.48 L59.7,493.47 L60.2,493.47 L60.7,493.47 L61.2,493.46 L61.7,493.46 L62.2,493.45 L62.7,493.45 L63.2,493.44 L63.7,493.43 L64.2,493.43 L64.7,493.42 L65.2,493.41 L65.7,493.4 L66.2,493.39 L66.7,493.37 L67.2,493.36 L67.7,493.34 L68.2,493.33 L68.7,493.31 L69.2,493.29 L69.7,493.26 L70.2,493.24 L70.7,493.21 L71.2,493.18 L71.7,493.15 L72.2,493.11 L72.7,493.07 L73.2,493.03 L73.7,492.98 L74.2,492.92 L74.7,492.87 L75.2,492.8 L75.7,492.73 L76.2,492.66 L76.7,492.57 L77.2,492.48 L77.7,492.39 L78.2,492.28 L78.7,492.16 L79.2,492.04 L79.7,491.9 L80.2,491.75 L80.7,491.59 L81.2,491.42 L81.7,491.23 L82.2,491.03 L82.7,490.81 L83.2,490.57 L83.7,490.32 L84.2,490.05 L84.7,489.75 L85.2,489.43 L85.7,489.09 L86.2,488.73 L86.7,488.33 L87.2,487.91 L87.7,487.46 L88.2,486.98 L88.7,486.46 L89.2,485.91 L89.7,485.32 L90.2,484.7 L90.7,484.03 L91.2,483.32 L91.7,482.57 L92.2,481.77 L92.7,480.92 L93.2,480.02 L93.7,479.06 L94.2,478.05 L94.7,476.99 L95.2,475.86 L95.7,474.68 L96.2,473.43 L96.7,472.11 L97.2,470.73 L97.7,469.28 L98.2,467.76 L98.7,466.16 L99.2,464.49 L99.7,462.75 L100.2,460.93 L100.7,459.03 L101.2,457.05 L101.7,454.99 L102.2,452.85 L102.7,450.64 L103.2,448.34 L103.7,445.96 L104.2,443.5 L104.7,440.97 L105.2,438.35 L105.7,435.66 L106.2,432.9 L106.7,430.07 L107.2,427.17 L107.7,424.2 L108.2,421.18 L108.7,418.1 L109.2,414.96 L109.7,411.78 L110.2,408.56 L110.7,405.3 L111.2,402.02 L111.7,398.72 L112.2,395.41 L112.7,392.09 L113.2,388.78 L113.7,385.49 L114.2,382.23 L114.7,379 L115.2,375.83 L115.7,372.71 L116.2,369.67 L116.7,366.73 L117.2,363.88 L117.7,361.16 L118.2,358.57 L118.7,356.14 L119.2,353.88 L119.7,351.81 L120.2,349.95 L120.7,348.34 L121.2,347 L121.7,345.97 L122.2,345.33 L122.7,345.34 L123.2,345.97 L123.7,346.95 L124.2,348.19 L124.7,349.67 L125.2,351.34 L125.7,353.18 L126.2,355.18 L126.7,357.32 L127.2,359.58 L127.7,361.96 L128.2,364.43 L128.7,366.98 L129.2,369.61 L129.7,372.31 L130.2,375.05 L130.7,377.85 L131.2,380.68 L131.7,383.53 L132.2,386.41 L132.7,389.3 L133.2,392.2 L133.7,395.1 L134.2,397.99 L134.7,400.87 L135.2,403.73 L135.7,406.57 L136.2,409.38 L136.7,412.16 L137.2,414.91 L137.7,417.62 L138.2,420.29 L138.7,422.92 L139.2,425.5 L139.7,428.03 L140.2,430.51 L140.7,432.93 L141.2,435.3 L141.7,437.62 L142.2,439.87 L142.7,442.07 L143.2,444.21 L143.7,446.3 L144.2,448.32 L144.7,450.28 L145.2,452.18 L145.7,454.03 L146.2,455.81 L146.7,457.54 L147.2,459.2 L147.7,460.81 L148.2,462.36 L148.7,463.86 L149.2,465.3 L149.7,466.68 L150.2,468.01 L150.7,469.29 L151.2,470.52 L151.7,471.7 L152.2,472.83 L152.7,473.91 L153.2,474.94 L153.7,475.93 L154.2,476.88 L154.7,477.78 L155.2,478.65 L155.7,479.47 L156.2,480.25 L156.7,481 L157.2,481.71 L157.7,482.39 L158.2,483.03 L158.7,483.64 L159.2,484.22 L159.7,484.77 L160.2,485.29 L160.7,485.79 L161.2,486.25 L161.7,486.7 L162.2,487.12 L162.7,487.51 L163.2,487.89 L163.7,488.24 L164.2,488.57 L164.7,488.89 L165.2,489.19 L165.7,489.47 L166.2,489.73 L166.7,489.98 L167.2,490.21 L167.7,490.43 L168.2,490.63 L168.7,490.83 L169.2,491.01 L169.7,491.18 L170.2,491.34 L170.7,491.49 L171.2,491.63 L171.7,491.76 L172.2,491.88 L172.7,492 L173.2,492.1 L173.7,492.2 L174.2,492.3 L174.7,492.38 L175.2,492.47 L175.7,492.54 L176.2,492.61 L176.7,492.68 L177.2,492.74 L177.7,492.8 L178.2,492.85 L178.7,492.9 L179.2,492.94 L179.7,492.99 L180.2,493.03 L180.7,493.06 L181.2,493.1 L181.7,493.13 L182.2,493.16 L182.7,493.19 L183.2,493.21 L183.7,493.23 L184.2,493.25 L184.7,493.27 L185.2,493.29 L185.7,493.31 L186.2,493.32 L186.7,493.34 L187.2,493.35 L187.7,493.36 L188.2,493.38 L188.7,493.39 L189.2,493.4 L189.7,493.4 L190.2,493.41 L190.7,493.42 L191.2,493.43 L191.7,493.43 L192.2,493.44 L192.7,493.44 L193.2,493.45 L193.7,493.45 L194.2,493.46 L194.7,493.46 L195.2,493.46 L195.7,493.47 L196.2,493.47 L196.7,493.47 L197.2,493.48 L197.7,493.48 L198.2,493.48 L198.7,493.48 L199.2,493.48 L199.7,493.48 L200.2,493.49 L200.7,493.49 L201.2,493.49 L201.7,493.49 L202.2,493.49 L202.7,493.49 L203.2,493.49 L203.7,493.49 L204.2,493.49 L204.7,493.49 L205.2,493.49 L205.7,493.5 L206.2,493.5 L206.7,493.5 L207.2,493.5 L207.7,493.5 L208.2,493.5 L208.7,493.5 L209.2,493.5 L209.7,493.5 L210.2,493.5 L210.7,493.5 L211.2,493.5 L211.7,493.5 L212.2,493.5 L212.7,493.5 L213.2,493.5 L213.7,493.5 L214.2,493.5 L214.7,493.5 L215.2,493.5 L215.7,493.5 L216.2,493.5 L216.7,493.5 L217.2,493.5 L217.7,493.5 L218.2,493.5 L218.7,493.5 L219.2,493.5 L219.7,493.5 L220.2,493.5 L220.7,493.5 L221.2,493.5 L221.7,493.5 L222.2,493.5 L222.7,493.5 L223.2,493.5 L223.7,493.5 L224.2,493.5 L224.7,493.5 L225.2,493.5 L225.7,493.5 L226.2,493.5 L226.7,493.5 L227.2,493.5 L227.7,493.5 L228.2,493.5 L228.7,493.5 L229.2,493.5 L229.7,493.5 L230.2,493.5 L230.7,493.5 L231.2,493.5 L231.7,493.5 L232.2,493.5 L232.7,493.5 L233.2,493.5 L233.7,493.5 L234.2,493.5 L234.7,493.5 L235.2,493.5 L235.7,493.5 L236.2,493.5 L236.7,493.5 L237.2,493.5 L237.7,493.5 L238.2,493.5 L238.7,493.5 L239.2,493.5 L239.7,493.5 L240.2,493.5 L240.7,493.5 L241.2,493.5 L241.7,493.5 L242.2,493.5 L242.7,493.5 L243.2,493.5 L243.7,493.5 L244.2,493.5 L244.7,493.5 L245.2,493.5 L245.7,493.5" fill="none" stroke="#ff2b2b" stroke-width="1.25" stroke-linejoin="round"/>
<path d="M55.7,493.5 L56.2,493.5 L56.7,493.5 L57.2,493.5 L57.7,493.5 L58.2,493.5 L58.7,493.5 L59.2,493.5 L59.7,493.5 L60.2,493.5 L60.7,493.5 L61.2,493.5 L61.7,493.5 L62.2,493.5 L62.7,493.5 L63.2,493.5 L63.7,493.5 L64.2,493.5 L64.7,493.5 L65.2,493.5 L65.7,493.5 L66.2,493.5 L66.7,493.5 L67.2,493.5 L67.7,493.5 L68.2,493.5 L68.7,493.5 L69.2,493.5 L69.7,493.5 L70.2,493.5 L70.7,493.5 L71.2,493.5 L71.7,493.5 L72.2,493.5 L72.7,493.5 L73.2,493.5 L73.7,493.5 L74.2,493.5 L74.7,493.5 L75.2,493.5 L75.7,493.5 L76.2,493.5 L76.7,493.5 L77.2,493.5 L77.7,493.5 L78.2,493.5 L78.7,493.5 L79.2,493.5 L79.7,493.5 L80.2,493.5 L80.7,493.5 L81.2,493.5 L81.7,493.5 L82.2,493.5 L82.7,493.5 L83.2,493.5 L83.7,493.5 L84.2,493.5 L84.7,493.5 L85.2,493.5 L85.7,493.5 L86.2,493.5 L86.7,493.5 L87.2,493.5 L87.7,493.5 L88.2,493.5 L88.7,493.5 L89.2,493.5 L89.7,493.5 L90.2,493.5 L90.7,493.5 L91.2,493.5 L91.7,493.5 L92.2,493.5 L92.7,493.5 L93.2,493.49 L93.7,493.49 L94.2,493.49 L94.7,493.48 L95.2,493.48 L95.7,493.47 L96.2,493.45 L96.7,493.43 L97.2,493.4 L97.7,493.36 L98.2,493.31 L98.7,493.23 L99.2,493.13 L99.7,492.99 L100.2,492.8 L100.7,492.54 L101.2,492.2 L101.7,491.74 L102.2,491.15 L102.7,490.39 L103.2,489.42 L103.7,488.22 L104.2,486.74 L104.7,484.98 L105.2,482.91 L105.7,480.52 L106.2,477.84 L106.7,474.87 L107.2,471.66 L107.7,468.23 L108.2,464.62 L108.7,460.86 L109.2,456.98 L109.7,453.01 L110.2,448.96 L110.7,444.85 L111.2,440.68 L111.7,436.47 L112.2,432.21 L112.7,427.91 L113.2,423.58 L113.7,419.22 L114.2,414.84 L114.7,410.44 L115.2,406.03 L115.7,401.62 L116.2,397.23 L116.7,392.85 L117.2,388.51 L117.7,384.22 L118.2,380 L118.7,375.85 L119.2,371.79 L119.7,367.85 L120.2,364.04 L120.7,360.36 L121.2,356.85 L121.7,353.51 L122.2,350.36 L122.7,347.42 L123.2,344.69 L123.7,342.2 L124.2,339.94 L124.7,337.94 L125.2,336.2 L125.7,334.73 L126.2,333.53 L126.7,332.61 L127.2,331.97 L127.7,331.61 L128.2,331.53 L128.7,332.04 L129.2,332.97 L129.7,334.21 L130.2,335.7 L130.7,337.41 L131.2,339.31 L131.7,341.38 L132.2,343.61 L132.7,345.97 L133.2,348.46 L133.7,351.05 L134.2,353.73 L134.7,356.5 L135.2,359.34 L135.7,362.25 L136.2,365.2 L136.7,368.2 L137.2,371.23 L137.7,374.29 L138.2,377.36 L138.7,380.45 L139.2,383.54 L139.7,386.63 L140.2,389.71 L140.7,392.78 L141.2,395.83 L141.7,398.85 L142.2,401.85 L142.7,404.81 L143.2,407.73 L143.7,410.62 L144.2,413.46 L144.7,416.26 L145.2,419.01 L145.7,421.71 L146.2,424.35 L146.7,426.94 L147.2,429.47 L147.7,431.94 L148.2,434.36 L148.7,436.71 L149.2,439.01 L149.7,441.24 L150.2,443.41 L150.7,445.52 L151.2,447.56 L151.7,449.55 L152.2,451.47 L152.7,453.33 L153.2,455.13 L153.7,456.87 L154.2,458.55 L154.7,460.18 L155.2,461.74 L155.7,463.25 L156.2,464.7 L156.7,466.09 L157.2,467.44 L157.7,468.72 L158.2,469.96 L158.7,471.15 L159.2,472.29 L159.7,473.38 L160.2,474.42 L160.7,475.42 L161.2,476.38 L161.7,477.29 L162.2,478.17 L162.7,479 L163.2,479.79 L163.7,480.55 L164.2,481.27 L164.7,481.96 L165.2,482.61 L165.7,483.23 L166.2,483.82 L166.7,484.38 L167.2,484.91 L167.7,485.42 L168.2,485.9 L168.7,486.35 L169.2,486.78 L169.7,487.19 L170.2,487.57 L170.7,487.94 L171.2,488.28 L171.7,488.61 L172.2,488.91 L172.7,489.2 L173.2,489.48 L173.7,489.73 L174.2,489.98 L174.7,490.2 L175.2,490.42 L175.7,490.62 L176.2,490.81 L176.7,490.99 L177.2,491.16 L177.7,491.31 L178.2,491.46 L178.7,491.6 L179.2,491.73 L179.7,491.85 L180.2,491.97 L180.7,492.07 L181.2,492.17 L181.7,492.27 L182.2,492.35 L182.7,492.43 L183.2,492.51 L183.7,492.58 L184.2,492.65 L184.7,492.71 L185.2,492.77 L185.7,492.82 L186.2,492.87 L186.7,492.92 L187.2,492.96 L187.7,493 L188.2,493.04 L188.7,493.07 L189.2,493.11 L189.7,493.14 L190.2,493.16 L190.7,493.19 L191.2,493.21 L191.7,493.24 L192.2,493.26 L192.7,493.28 L193.2,493.29 L193.7,493.31 L194.2,493.32 L194.7,493.34 L195.2,493.35 L195.7,493.36 L196.2,493.37 L196.7,493.38 L197.2,493.39 L197.7,493.4 L198.2,493.41 L198.7,493.42 L199.2,493.43 L199.7,493.43 L200.2,493.44 L200.7,493.44 L201.2,493.45 L201.7,493.45 L202.2,493.46 L202.7,493.46 L203.2,493.46 L203.7,493.47 L204.2,493.47 L204.7,493.47 L205.2,493.47 L205.7,493.48 L206.2,493.48 L206.7,493.48 L207.2,493.48 L207.7,493.48 L208.2,493.49 L208.7,493.49 L209.2,493.49 L209.7,493.49 L210.2,493.49 L210.7,493.49 L211.2,493.49 L211.7,493.49 L212.2,493.49 L212.7,493.49 L213.2,493.49 L213.7,493.49 L214.2,493.5 L214.7,493.5 L215.2,493.5 L215.7,493.5 L216.2,493.5 L216.7,493.5 L217.2,493.5 L217.7,493.5 L218.2,493.5 L218.7,493.5 L219.2,493.5 L219.7,493.5 L220.2,493.5 L220.7,493.5 L221.2,493.5 L221.7,493.5 L222.2,493.5 L222.7,493.5 L223.2,493.5 L223.7,493.5 L224.2,493.5 L224.7,493.5 L225.2,493.5 L225.7,493.5 L226.2,493.5 L226.7,493.5 L227.2,493.5 L227.7,493.5 L228.2,493.5 L228.7,493.5 L229.2,493.5 L229.7,493.5 L230.2,493.5 L230.7,493.5 L231.2,493.5 L231.7,493.5 L232.2,493.5 L232.7,493.5 L233.2,493.5 L233.7,493.5 L234.2,493.5 L234.7,493.5 L235.2,493.5 L235.7,493.5 L236.2,493.5 L236.7,493.5 L237.2,493.5 L237.7,493.5 L238.2,493.5 L238.7,493.5 L239.2,493.5 L239.7,493.5 L240.2,493.5 L240.7,493.5 L241.2,493.5 L241.7,493.5 L242.2,493.5 L242.7,493.5 L243.2,493.5 L243.7,493.5 L244.2,493.5 L244.7,493.5 L245.2,493.5 L245.7,493.5" fill="none" stroke="#ff2bff" stroke-width="1.25" stroke-linejoin="round"/>
<path d="M55.7,493.5 L56.2,493.5 L56.7,493.5 L57.2,493.5 L57.7,493.5 L58.2,493.5 L58.7,493.5 L59.2,493.5 L59.7,493.5 L60.2,493.5 L60.7,493.5 L61.2,493.5 L61.7,493.5 L62.2,493.5 L62.7,493.5 L63.2,493.5 L63.7,493.5 L64.2,493.5 L64.7,493.5 L65.2,493.5 L65.7,493.5 L66.2,493.5 L66.7,493.5 L67.2,493.5 L67.7,493.5 L68.2,493.5 L68.7,493.5 L69.2,493.5 L69.7,493.5 L70.2,493.5 L70.7,493.5 L71.2,493.5 L71.7,493.5 L72.2,493.5 L72.7,493.5 L73.2,493.5 L73.7,493.5 L74.2,493.5 L74.7,493.5 L75.2,493.5 L75.7,493.5 L76.2,493.5 L76.7,493.5 L77.2,493.5 L77.7,493.5 L78.2,493.5 L78.7,493.5 L79.2,493.5 L79.7,493.5 L80.2,493.5 L80.7,493.5 L81.2,493.5 L81.7,493.5 L82.2,493.5 L82.7,493.5 L83.2,493.5 L83.7,493.5 L84.2,493.5 L84.7,493.5 L85.2,493.5 L85.7,493.5 L86.2,493.5 L86.7,493.5 L87.2,493.5 L87.7,493.5 L88.2,493.5 L88.7,493.5 L89.2,493.5 L89.7,493.5 L90.2,493.5 L90.7,493.5 L91.2,493.5 L91.7,493.5 L92.2,493.5 L92.7,493.5 L93.2,493.5 L93.7,493.5 L94.2,493.5 L94.7,493.5 L95.2,493.49 L95.7,493.49 L96.2,493.49 L96.7,493.48 L97.2,493.47 L97.7,493.46 L98.2,493.44 L98.7,493.41 L99.2,493.38 L99.7,493.32 L100.2,493.25 L100.7,493.15 L101.2,493.01 L101.7,492.81 L102.2,492.54 L102.7,492.19 L103.2,491.71 L103.7,491.09 L104.2,490.28 L104.7,489.26 L105.2,488 L105.7,486.46 L106.2,484.62 L106.7,482.49 L107.2,480.06 L107.7,477.36 L108.2,474.41 L108.7,471.25 L109.2,467.89 L109.7,464.38 L110.2,460.74 L110.7,456.99 L111.2,453.15 L111.7,449.22 L112.2,445.21 L112.7,441.13 L113.2,436.98 L113.7,432.76 L114.2,428.48 L114.7,424.15 L115.2,419.76 L115.7,415.33 L116.2,410.86 L116.7,406.37 L117.2,401.86 L117.7,397.35 L118.2,392.86 L118.7,388.39 L119.2,383.97 L119.7,379.61 L120.2,375.33 L120.7,371.14 L121.2,367.07 L121.7,363.14 L122.2,359.36 L122.7,355.75 L123.2,352.33 L123.7,349.11 L124.2,346.12 L124.7,343.36 L125.2,340.85 L125.7,338.61 L126.2,336.64 L126.7,334.95 L127.2,333.55 L127.7,332.45 L128.2,331.65 L128.7,331.14 L129.2,330.93 L129.7,331.21 L130.2,332.03 L130.7,333.2 L131.2,334.64 L131.7,336.32 L132.2,338.18 L132.7,340.23 L133.2,342.43 L133.7,344.77 L134.2,347.22 L134.7,349.79 L135.2,352.45 L135.7,355.19 L136.2,358.01 L136.7,360.89 L137.2,363.81 L137.7,366.78 L138.2,369.79 L138.7,372.82 L139.2,375.86 L139.7,378.92 L140.2,381.99 L140.7,385.05 L141.2,388.1 L141.7,391.14 L142.2,394.16 L142.7,397.16 L143.2,400.13 L143.7,403.07 L144.2,405.98 L144.7,408.85 L145.2,411.67 L145.7,414.45 L146.2,417.18 L146.7,419.87 L147.2,422.5 L147.7,425.08 L148.2,427.61 L148.7,430.08 L149.2,432.49 L149.7,434.84 L150.2,437.14 L150.7,439.37 L151.2,441.55 L151.7,443.66 L152.2,445.72 L152.7,447.72 L153.2,449.65 L153.7,451.53 L154.2,453.34 L154.7,455.1 L155.2,456.8 L155.7,458.45 L156.2,460.03 L156.7,461.57 L157.2,463.04 L157.7,464.46 L158.2,465.83 L158.7,467.15 L159.2,468.42 L159.7,469.64 L160.2,470.81 L160.7,471.93 L161.2,473.01 L161.7,474.04 L162.2,475.03 L162.7,475.98 L163.2,476.88 L163.7,477.75 L164.2,478.58 L164.7,479.37 L165.2,480.12 L165.7,480.84 L166.2,481.53 L166.7,482.18 L167.2,482.81 L167.7,483.4 L168.2,483.97 L168.7,484.5 L169.2,485.01 L169.7,485.5 L170.2,485.96 L170.7,486.4 L171.2,486.81 L171.7,487.2 L172.2,487.58 L172.7,487.93 L173.2,488.26 L173.7,488.58 L174.2,488.88 L174.7,489.16 L175.2,489.43 L175.7,489.68 L176.2,489.92 L176.7,490.14 L177.2,490.35 L177.7,490.55 L178.2,490.74 L178.7,490.92 L179.2,491.08 L179.7,491.24 L180.2,491.39 L180.7,491.53 L181.2,491.66 L181.7,491.78 L182.2,491.89 L182.7,492 L183.2,492.1 L183.7,492.2 L184.2,492.28 L184.7,492.37 L185.2,492.45 L185.7,492.52 L186.2,492.59 L186.7,492.65 L187.2,492.71 L187.7,492.77 L188.2,492.82 L188.7,492.87 L189.2,492.91 L189.7,492.95 L190.2,492.99 L190.7,493.03 L191.2,493.06 L191.7,493.1 L192.2,493.13 L192.7,493.15 L193.2,493.18 L193.7,493.2 L194.2,493.23 L194.7,493.25 L195.2,493.26 L195.7,493.28 L196.2,493.3 L196.7,493.31 L197.2,493.33 L197.7,493.34 L198.2,493.35 L198.7,493.37 L199.2,493.38 L199.7,493.39 L200.2,493.39 L200.7,493.4 L201.2,493.41 L201.7,493.42 L202.2,493.42 L202.7,493.43 L203.2,493.44 L203.7,493.44 L204.2,493.45 L204.7,493.45 L205.2,493.45 L205.7,493.46 L206.2,493.46 L206.7,493.46 L207.2,493.47 L207.7,493.47 L208.2,493.47 L208.7,493.48 L209.2,493.48 L209.7,493.48 L210.2,493.48 L210.7,493.48 L211.2,493.48 L211.7,493.49 L212.2,493.49 L212.7,493.49 L213.2,493.49 L213.7,493.49 L214.2,493.49 L214.7,493.49 L215.2,493.49 L215.7,493.49 L216.2,493.49 L216.7,493.49 L217.2,493.49 L217.7,493.5 L218.2,493.5 L218.7,493.5 L219.2,493.5 L219.7,493.5 L220.2,493.5 L220.7,493.5 L221.2,493.5 L221.7,493.5 L222.2,493.5 L222.7,493.5 L223.2,493.5 L223.7,493.5 L224.2,493.5 L224.7,493.5 L225.2,493.5 L225.7,493.5 L226.2,493.5 L226.7,493.5 L227.2,493.5 L227.7,493.5 L228.2,493.5 L228.7,493.5 L229.2,493.5 L229.7,493.5 L230.2,493.5 L230.7,493.5 L231.2,493.5 L231.7,493.5 L232.2,493.5 L232.7,493.5 L233.2,493.5 L233.7,493.5 L234.2,493.5 L234.7,493.5 L235.2,493.5 L235.7,493.5 L236.2,493.5 L236.7,493.5 L237.2,493.5 L237.7,493.5 L238.2,493.5 L238.7,493.5 L239.2,493.5 L239.7,493.5 L240.2,493.5 L240.7,493.5 L241.2,493.5 L241.7,493.5 L242.2,493.5 L242.7,493.5 L243.2,493.5 L243.7,493.5 L244.2,493.5 L244.7,493.5 L245.2,493.5 L245.7,493.5" fill="none" stroke="#ff9a2b" stroke-width="1.25" stroke-linejoin="round"/>
<rect x="55.1" y="304.4" width="191.6" height="202.9" fill="none" stroke="#3a3a3a" stroke-width="1.4"/>
<line x1="55.1" y1="493.6" x2="60.6" y2="493.6" stroke="#3a3a3a" stroke-width="1.2"/>
<line x1="55.1" y1="478.44" x2="58.1" y2="478.44" stroke="#3a3a3a" stroke-width="1.2"/>
<line x1="55.1" y1="463.28" x2="58.1" y2="463.28" stroke="#3a3a3a" stroke-width="1.2"/>
<line x1="55.1" y1="448.12" x2="58.1" y2="448.12" stroke="#3a3a3a" stroke-width="1.2"/>
<line x1="55.1" y1="432.96" x2="58.1" y2="432.96" stroke="#3a3a3a" stroke-width="1.2"/>
<line x1="55.1" y1="417.8" x2="60.6" y2="417.8" stroke="#3a3a3a" stroke-width="1.2"/>
<line x1="55.1" y1="402.64" x2="58.1" y2="402.64" stroke="#3a3a3a" stroke-width="1.2"/>
<line x1="55.1" y1="387.48" x2="58.1" y2="387.48" stroke="#3a3a3a" stroke-width="1.2"/>
<line x1="55.1" y1="372.32" x2="58.1" y2="372.32" stroke="#3a3a3a" stroke-width="1.2"/>
<line x1="55.1" y1="357.16" x2="58.1" y2="357.16" stroke="#3a3a3a" stroke-width="1.2"/>
<line x1="55.1" y1="342" x2="60.6" y2="342" stroke="#3a3a3a" stroke-width="1.2"/>
<line x1="55.1" y1="326.84" x2="58.1" y2="326.84" stroke="#3a3a3a" stroke-width="1.2"/>
<line x1="55.1" y1="311.68" x2="58.1" y2="311.68" stroke="#3a3a3a" stroke-width="1.2"/>
<text transform="translate(48.8,497) scale(1,1)" font-size="11.6" text-anchor="end" letter-spacing="0.4">0</text>
<text transform="translate(48.8,421.2) scale(1,1)" font-size="11.6" text-anchor="end" letter-spacing="0.4">10</text>
<text transform="translate(48.8,345.4) scale(1,1)" font-size="11.6" text-anchor="end" letter-spacing="0.4">20</text>
<line x1="60.89" y1="507.3" x2="60.89" y2="504.3" stroke="#3a3a3a" stroke-width="1.2"/>
<line x1="66.17" y1="507.3" x2="66.17" y2="504.3" stroke="#3a3a3a" stroke-width="1.2"/>
<line x1="70.9" y1="507.3" x2="70.9" y2="502.3" stroke="#3a3a3a" stroke-width="1.2"/>
<line x1="102" y1="507.3" x2="102" y2="504.3" stroke="#3a3a3a" stroke-width="1.2"/>
<line x1="120.19" y1="507.3" x2="120.19" y2="504.3" stroke="#3a3a3a" stroke-width="1.2"/>
<line x1="133.09" y1="507.3" x2="133.09" y2="504.3" stroke="#3a3a3a" stroke-width="1.2"/>
<line x1="143.1" y1="507.3" x2="143.1" y2="504.3" stroke="#3a3a3a" stroke-width="1.2"/>
<line x1="151.28" y1="507.3" x2="151.28" y2="504.3" stroke="#3a3a3a" stroke-width="1.2"/>
<line x1="158.2" y1="507.3" x2="158.2" y2="504.3" stroke="#3a3a3a" stroke-width="1.2"/>
<line x1="164.19" y1="507.3" x2="164.19" y2="504.3" stroke="#3a3a3a" stroke-width="1.2"/>
<line x1="169.47" y1="507.3" x2="169.47" y2="504.3" stroke="#3a3a3a" stroke-width="1.2"/>
<line x1="174.2" y1="507.3" x2="174.2" y2="502.3" stroke="#3a3a3a" stroke-width="1.2"/>
<line x1="205.3" y1="507.3" x2="205.3" y2="504.3" stroke="#3a3a3a" stroke-width="1.2"/>
<line x1="223.49" y1="507.3" x2="223.49" y2="504.3" stroke="#3a3a3a" stroke-width="1.2"/>
<line x1="236.39" y1="507.3" x2="236.39" y2="504.3" stroke="#3a3a3a" stroke-width="1.2"/>
<text transform="translate(70.5,522.6) scale(1,1)" font-size="11.6" text-anchor="middle" letter-spacing="0.3">10</text>
<text transform="translate(174.2,522.6) scale(1,1)" font-size="11.6" text-anchor="middle" letter-spacing="0.3">100</text>
<text transform="translate(150.5,543.5) scale(1,0.95)" font-size="17.1" text-anchor="middle" >Hydrodynamic diameter (nm)</text>
<text transform="translate(22.8,410.5) rotate(-90) scale(1,1)" x="0" y="0" font-size="17.0" text-anchor="middle">Number (%)</text>
<line x1="191.8" y1="320.6" x2="207.7" y2="320.6" stroke="#2b2b2b" stroke-width="1.25"/>
<text transform="translate(233.2,323.1) scale(1,0.93)" font-size="11.8" text-anchor="end" >h</text>
<text transform="translate(223.1,323.1) scale(1,0.93)" font-size="11.8" text-anchor="end" letter-spacing="0.4">0</text>
<line x1="191.8" y1="335.5" x2="207.7" y2="335.5" stroke="#2323ff" stroke-width="1.25"/>
<text transform="translate(234.2,338) scale(1,0.93)" font-size="11.8" text-anchor="end" >h</text>
<text transform="translate(224.1,338) scale(1,0.93)" font-size="11.8" text-anchor="end" letter-spacing="0.4">3</text>
<line x1="191.8" y1="350.4" x2="207.7" y2="350.4" stroke="#2b9a2b" stroke-width="1.25"/>
<text transform="translate(234.2,352.9) scale(1,0.93)" font-size="11.8" text-anchor="end" >h</text>
<text transform="translate(224.1,352.9) scale(1,0.93)" font-size="11.8" text-anchor="end" letter-spacing="0.4">9</text>
<line x1="191.8" y1="365.3" x2="207.7" y2="365.3" stroke="#ff2b2b" stroke-width="1.25"/>
<text transform="translate(234.2,367.8) scale(1,0.93)" font-size="11.8" text-anchor="end" >h</text>
<text transform="translate(224,367.8) scale(1,0.93)" font-size="11.8" text-anchor="end" letter-spacing="0.1">18</text>
<line x1="191.8" y1="380.2" x2="207.7" y2="380.2" stroke="#ff2bff" stroke-width="1.25"/>
<text transform="translate(234.2,382.7) scale(1,0.93)" font-size="11.8" text-anchor="end" >h</text>
<text transform="translate(224,382.7) scale(1,0.93)" font-size="11.8" text-anchor="end" letter-spacing="0.1">27</text>
<line x1="191.8" y1="395.1" x2="207.7" y2="395.1" stroke="#ff9a2b" stroke-width="1.25"/>
<text transform="translate(234.2,397.6) scale(1,0.93)" font-size="11.8" text-anchor="end" >h</text>
<text transform="translate(224,397.6) scale(1,0.93)" font-size="11.8" text-anchor="end" letter-spacing="0.1">54</text>
<text transform="translate(261.3,290.1) scale(1,1)" font-size="21.2" text-anchor="start" letter-spacing="0.7">(d)</text>
<path d="M323.2,444.27 L332.78,441.87 L351.95,421.22 L380.69,390.59 L409.44,370.64 L495.68,363.41" fill="none" stroke="#333" stroke-width="1.0"/>
<line x1="323.2" y1="423.63" x2="323.2" y2="464.58" stroke="#333" stroke-width="1.1"/>
<line x1="320.5" y1="423.63" x2="325.9" y2="423.63" stroke="#333" stroke-width="1.1"/>
<line x1="320.5" y1="464.58" x2="325.9" y2="464.58" stroke="#333" stroke-width="1.1"/>
<rect x="319.4" y="440.47" width="7.6" height="7.6" fill="#000"/>
<line x1="332.78" y1="421.22" x2="332.78" y2="461.48" stroke="#333" stroke-width="1.1"/>
<line x1="330.08" y1="421.22" x2="335.48" y2="421.22" stroke="#333" stroke-width="1.1"/>
<line x1="330.08" y1="461.48" x2="335.48" y2="461.48" stroke="#333" stroke-width="1.1"/>
<rect x="328.98" y="438.07" width="7.6" height="7.6" fill="#000"/>
<line x1="351.95" y1="398.51" x2="351.95" y2="444.62" stroke="#333" stroke-width="1.1"/>
<line x1="349.25" y1="398.51" x2="354.65" y2="398.51" stroke="#333" stroke-width="1.1"/>
<line x1="349.25" y1="444.62" x2="354.65" y2="444.62" stroke="#333" stroke-width="1.1"/>
<rect x="348.15" y="417.42" width="7.6" height="7.6" fill="#000"/>
<line x1="380.69" y1="349.99" x2="380.69" y2="431.89" stroke="#333" stroke-width="1.1"/>
<line x1="377.99" y1="349.99" x2="383.39" y2="349.99" stroke="#333" stroke-width="1.1"/>
<line x1="377.99" y1="431.89" x2="383.39" y2="431.89" stroke="#333" stroke-width="1.1"/>
<rect x="376.89" y="386.79" width="7.6" height="7.6" fill="#000"/>
<line x1="409.44" y1="327.62" x2="409.44" y2="414.34" stroke="#333" stroke-width="1.1"/>
<line x1="406.74" y1="327.62" x2="412.14" y2="327.62" stroke="#333" stroke-width="1.1"/>
<line x1="406.74" y1="414.34" x2="412.14" y2="414.34" stroke="#333" stroke-width="1.1"/>
<rect x="405.64" y="366.84" width="7.6" height="7.6" fill="#000"/>
<line x1="495.68" y1="314.2" x2="495.68" y2="413.3" stroke="#333" stroke-width="1.1"/>
<line x1="492.98" y1="314.2" x2="498.38" y2="314.2" stroke="#333" stroke-width="1.1"/>
<line x1="492.98" y1="413.3" x2="498.38" y2="413.3" stroke="#333" stroke-width="1.1"/>
<rect x="491.88" y="359.61" width="7.6" height="7.6" fill="#000"/>
<rect x="313.7" y="304" width="191.7" height="202.9" fill="none" stroke="#3a3a3a" stroke-width="1.4"/>
<line x1="313.7" y1="506.9" x2="318.9" y2="506.9" stroke="#3a3a3a" stroke-width="1.2"/>
<text transform="translate(307.6,510.1) scale(1,1)" font-size="11.6" text-anchor="end" letter-spacing="0.4">0</text>
<line x1="313.7" y1="472.49" x2="318.9" y2="472.49" stroke="#3a3a3a" stroke-width="1.2"/>
<text transform="translate(307.6,475.69) scale(1,1)" font-size="11.6" text-anchor="end" letter-spacing="0.4">10</text>
<line x1="313.7" y1="438.08" x2="318.9" y2="438.08" stroke="#3a3a3a" stroke-width="1.2"/>
<text transform="translate(307.6,441.28) scale(1,1)" font-size="11.6" text-anchor="end" letter-spacing="0.4">20</text>
<line x1="313.7" y1="403.67" x2="318.9" y2="403.67" stroke="#3a3a3a" stroke-width="1.2"/>
<text transform="translate(307.6,406.87) scale(1,1)" font-size="11.6" text-anchor="end" letter-spacing="0.4">30</text>
<line x1="313.7" y1="369.26" x2="318.9" y2="369.26" stroke="#3a3a3a" stroke-width="1.2"/>
<text transform="translate(307.6,372.46) scale(1,1)" font-size="11.6" text-anchor="end" letter-spacing="0.4">40</text>
<line x1="313.7" y1="334.85" x2="318.9" y2="334.85" stroke="#3a3a3a" stroke-width="1.2"/>
<text transform="translate(307.6,338.05) scale(1,1)" font-size="11.6" text-anchor="end" letter-spacing="0.4">50</text>
<line x1="323.2" y1="506.9" x2="323.2" y2="501.9" stroke="#3a3a3a" stroke-width="1.2"/>
<text transform="translate(323.5,522.3) scale(1,1)" font-size="11" text-anchor="middle" letter-spacing="0.5">0</text>
<line x1="351.95" y1="506.9" x2="351.95" y2="501.9" stroke="#3a3a3a" stroke-width="1.2"/>
<text transform="translate(352.25,522.3) scale(1,1)" font-size="11" text-anchor="middle" letter-spacing="0.5">9</text>
<line x1="380.69" y1="506.9" x2="380.69" y2="501.9" stroke="#3a3a3a" stroke-width="1.2"/>
<text transform="translate(380.99,522.3) scale(1,1)" font-size="11" text-anchor="middle" letter-spacing="0.5">18</text>
<line x1="409.44" y1="506.9" x2="409.44" y2="501.9" stroke="#3a3a3a" stroke-width="1.2"/>
<text transform="translate(409.74,522.3) scale(1,1)" font-size="11" text-anchor="middle" letter-spacing="0.5">27</text>
<line x1="438.18" y1="506.9" x2="438.18" y2="501.9" stroke="#3a3a3a" stroke-width="1.2"/>
<text transform="translate(438.48,522.3) scale(1,1)" font-size="11" text-anchor="middle" letter-spacing="0.5">36</text>
<line x1="466.93" y1="506.9" x2="466.93" y2="501.9" stroke="#3a3a3a" stroke-width="1.2"/>
<text transform="translate(467.23,522.3) scale(1,1)" font-size="11" text-anchor="middle" letter-spacing="0.5">45</text>
<line x1="495.68" y1="506.9" x2="495.68" y2="501.9" stroke="#3a3a3a" stroke-width="1.2"/>
<text transform="translate(495.98,522.3) scale(1,1)" font-size="11" text-anchor="middle" letter-spacing="0.5">54</text>
<text transform="translate(408.9,545.4) scale(1,0.96)" font-size="16.9" text-anchor="middle" >Reaction time (h)</text>
<text transform="translate(282.0,405.4) rotate(-90) scale(1,1)" x="0" y="0" font-size="14.6" text-anchor="middle">Hydrodynamic diameter (nm)</text>
</svg>
</body></html>
